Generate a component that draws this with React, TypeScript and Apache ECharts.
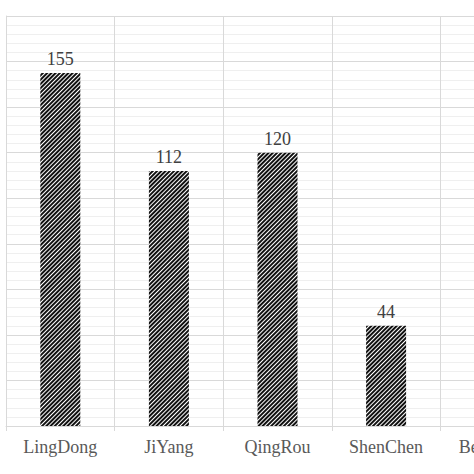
import React, { useEffect, useRef } from "react";
import * as echarts from "echarts";

// the fifth category is cut off at the right edge of the reference; its bar is not visible
const categories = ["LingDong", "JiYang", "QingRou", "ShenChen", "BeiChang"];
const values = [155, 112, 120, 44, null];

const yMin = 0;
const yMax = 180;
const yInterval = 20;

const serif = "'Liberation Serif', 'Times New Roman', serif";

const App: React.FC = () => {
  const chartRef = useRef<HTMLDivElement>(null);

  useEffect(() => {
    if (!chartRef.current) return;
    const chart = echarts.init(chartRef.current, undefined, { renderer: "svg" });

    const option = {
      animation: false,
      backgroundColor: "#ffffff",
      grid: {
        left: 6,
        top: 16,
        width: 543,
        height: 410,
        containLabel: false,
        outerBoundsMode: "none",
      },
      xAxis: {
        type: "category",
        data: categories,
        boundaryGap: true,
        axisLine: { show: true, lineStyle: { color: "#d9d9d9", width: 1 } },
        axisTick: { show: true, length: 5, lineStyle: { color: "#d9d9d9" } },
        splitLine: { show: true, lineStyle: { color: "#d9d9d9", width: 1 } },
        axisLabel: {
          interval: 0,
          hideOverlap: false,
          color: "#595959",
          fontSize: 18,
          fontFamily: serif,
          margin: 12,
        },
      },
      yAxis: {
        type: "value",
        min: yMin,
        max: yMax,
        interval: yInterval,
        axisLabel: { show: false },
        axisLine: { show: true, lineStyle: { color: "#d9d9d9" } },
        axisTick: { show: false },
        splitLine: { show: true, lineStyle: { color: "#d9d9d9", width: 1 } },
        minorTick: { show: false, splitNumber: 5 },
        minorSplitLine: { show: true, lineStyle: { color: "#efefef", width: 1 } },
      },
      series: [
        {
          type: "bar",
          data: values,
          barWidth: 40,
          itemStyle: {
            color: "#ffffff",
            decal: {
              symbol: "rect",
              symbolSize: 1,
              dashArrayX: [1, 0],
              dashArrayY: [1.2, 1],
              rotation: -Math.PI / 4,
              color: "#111111",
              backgroundColor: "#ffffff",
            },
          },
          label: {
            show: true,
            position: "top",
            distance: 5,
            color: "#404040",
            fontSize: 18,
            fontFamily: serif,
          },
        },
      ],
    };

    chart.setOption(option);

    return () => {
      chart.dispose();
    };
  }, []);

  return (
    <div
      ref={chartRef}
      style={{ position: "fixed", left: 0, top: 0, width: 474, height: 474 }}
    />
  );
};

export default App;
